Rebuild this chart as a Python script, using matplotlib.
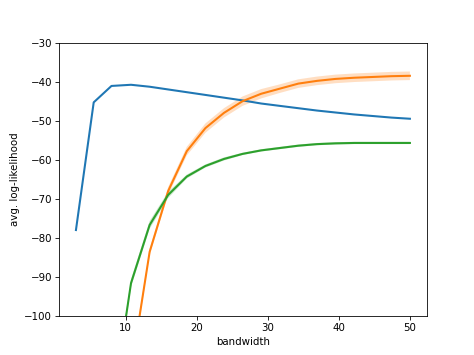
import numpy as np
import matplotlib
matplotlib.use("Agg")
import matplotlib.pyplot as plt

# bandwidth grid
bandwidth = [3, 5.5, 8, 10.75, 13.37, 15.98, 18.6, 21.22, 23.83, 26.45,
             29.07, 31.68, 34.3, 36.92, 39.53, 42.15, 44.77, 47.38, 50]

blue = [-78.0, -45.3, -41.1, -40.8, -41.3, -42.0, -42.7, -43.4, -44.1, -44.8,
        -45.6, -46.2, -46.8, -47.4, -47.9, -48.4, -48.8, -49.2, -49.5]

orange = [-300, -220, -160, -114, -83.6, -68.0, -57.8, -51.9, -48.0, -45.0,
          -43.1, -41.8, -40.5, -39.8, -39.3, -39.0, -38.8, -38.6, -38.5]
orange_err = [3.0, 3.0, 2.0, 1.2, 0.8, 1.0, 1.1, 1.2, 1.2, 1.2,
              1.2, 1.1, 1.1, 1.1, 1.1, 1.1, 1.1, 1.1, 1.1]

green = [-200, -170, -125, -91.6, -76.7, -69.0, -64.3, -61.6, -59.8, -58.5,
         -57.6, -57.0, -56.4, -56.0, -55.8, -55.7, -55.7, -55.7, -55.7]
green_err = [2.0, 2.0, 1.5, 1.0, 1.0, 0.8, 0.5, 0.4, 0.4, 0.3,
             0.3, 0.3, 0.3, 0.3, 0.3, 0.3, 0.3, 0.3, 0.3]

x = np.array(bandwidth)
# default 6.4x4.8 figure, shrunk to 474x355
fig, ax = plt.subplots(figsize=(474 / 74, 355 / 74), dpi=74)

ax.plot(x, blue, color="C0", lw=2)

o = np.array(orange)
oe = np.array(orange_err)
ax.plot(x, o, color="C1", lw=2)
ax.fill_between(x, o - oe, o + oe, color="C1", alpha=0.25, lw=0)

g = np.array(green)
ge = np.array(green_err)
ax.plot(x, g, color="C2", lw=2)
ax.fill_between(x, g - ge, g + ge, color="C2", alpha=0.25, lw=0)

ax.set_ylim(-100, -30)
ax.set_xlim(0.65, 52.35)
ax.set_xlabel("bandwidth")
ax.set_ylabel("avg. log-likelihood")

plt.savefig("out.png", dpi=74)
